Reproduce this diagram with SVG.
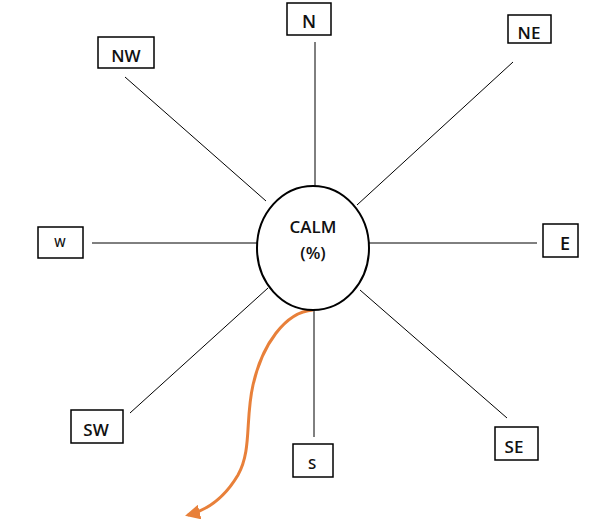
<svg xmlns="http://www.w3.org/2000/svg" width="592" height="519" viewBox="0 0 592 519">
<defs>
<style>
.box{fill:#fff;stroke:#000;stroke-width:1.5}
.lbl{font-family:"Open Sans","Noto Sans",sans-serif;font-size:17px;font-weight:600;fill:#111;text-anchor:middle}
.ln{stroke:#000;stroke-width:1;fill:none}
</style>
<marker id="ah" viewBox="0 0 10 10" refX="8" refY="5" markerWidth="5" markerHeight="5" orient="auto-start-reverse">
<path d="M0,0 L10,5 L0,10 z" fill="#E8803A"/>
</marker>
</defs>
<rect width="592" height="519" fill="#fff"/>
<g id="connectors">
<line class="ln" x1="315" y1="42" x2="315" y2="186"/>
<line class="ln" x1="125" y1="77" x2="266" y2="201"/>
<line class="ln" x1="513" y1="62" x2="357" y2="205"/>
<line class="ln" x1="92" y1="243" x2="257" y2="243"/>
<line class="ln" x1="369" y1="243" x2="537" y2="243"/>
<line class="ln" x1="130" y1="413" x2="268" y2="288"/>
<line class="ln" x1="360" y1="290" x2="507" y2="418"/>
<line class="ln" x1="314" y1="310" x2="314" y2="437"/>
<path d="M313,310 C285,312 262,345 253,385 C245,420 252,450 238,475 C225,497 208,510 188,515" fill="none" stroke="#E8803A" stroke-width="3" marker-end="url(#ah)"/>
</g>
<g id="calm">
<ellipse cx="313" cy="248" rx="56" ry="62" fill="#fff" stroke="#000" stroke-width="2"/>
<text class="lbl" x="313" y="233">CALM</text>
<text class="lbl" x="313" y="259">(%)</text>
</g>
<g id="n"><rect class="box" x="287" y="3" width="44" height="32"/><text class="lbl" x="309" y="28" font-weight="400" style="font-size:18px">N</text></g>
<g id="nw"><rect class="box" x="98" y="37" width="56" height="31"/><text class="lbl" x="126" y="62">NW</text></g>
<g id="ne"><rect class="box" x="508" y="15" width="43" height="28"/><text class="lbl" x="529" y="39">NE</text></g>
<g id="w"><rect class="box" x="38" y="227" width="45" height="31"/><text class="lbl" x="60" y="247" style="font-size:12px">W</text></g>
<g id="e"><rect class="box" x="543" y="224" width="35" height="33"/><text class="lbl" x="565" y="250" font-weight="400" style="font-size:18px">E</text></g>
<g id="sw"><rect class="box" x="71" y="410" width="52" height="33"/><text class="lbl" x="96" y="436">SW</text></g>
<g id="s"><rect class="box" x="293" y="444" width="40" height="33"/><text class="lbl" x="312" y="469" style="font-size:15px">S</text></g>
<g id="se"><rect class="box" x="495" y="427" width="43" height="33"/><text class="lbl" x="514" y="453">SE</text></g>
</svg>
